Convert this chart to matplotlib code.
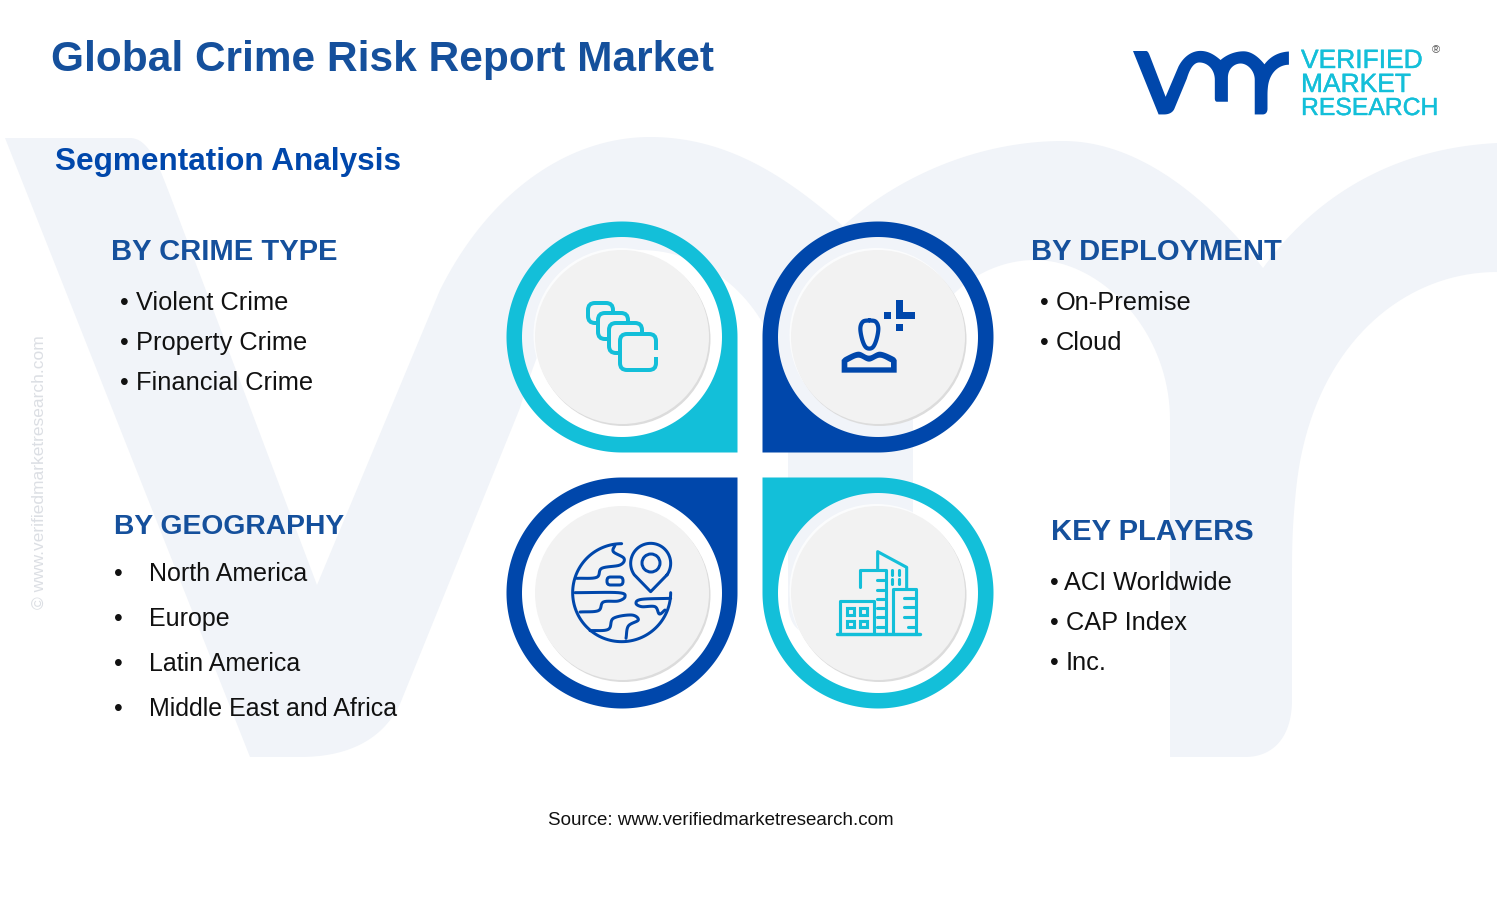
import numpy as np
import matplotlib
matplotlib.use('Agg')
import matplotlib.pyplot as plt
import matplotlib.patheffects as pe
from matplotlib.path import Path
from matplotlib.patches import PathPatch, Circle, Rectangle, FancyBboxPatch

plt.rcParams['font.family'] = ['Liberation Sans', 'DejaVu Sans']

title = 'Global Crime Risk Report Market'
subtitle = 'Segmentation Analysis'
source = 'Source: www.verifiedmarketresearch.com'
copyright_note = '© www.verifiedmarketresearch.com'

crime_types = ['Violent Crime', 'Property Crime', 'Financial Crime']
deployments = ['On-Premise', 'Cloud']
geographies = ['North America', 'Europe', 'Latin America', 'Middle East and Africa']
key_players = ['ACI Worldwide', 'CAP Index', 'Inc.']

BLUE = '#0047ab'
TEAL = '#13bfd9'
HEAD = '#15509c'
WASH = '#f1f4f9'
INK = '#111111'
PX = 72 / 100  # one pixel in points at dpi 100


def smooth(pts, n=14):
    # Catmull-Rom through the given points
    pts = np.array(pts, dtype=float)
    p = np.vstack([2 * pts[0] - pts[1], pts, 2 * pts[-1] - pts[-2]])
    out = []
    for i in range(1, len(p) - 2):
        for t in np.linspace(0, 1, n, endpoint=False):
            out.append(0.5 * (2 * p[i] + (p[i + 1] - p[i - 1]) * t
                              + (2 * p[i - 1] - 5 * p[i] + 4 * p[i + 1] - p[i + 2]) * t ** 2
                              + (3 * p[i] - p[i - 1] - 3 * p[i + 1] + p[i + 2]) * t ** 3))
    out.append(pts[-1])
    return np.array(out)


def bez(p0, c1, c2, p1, n=40):
    t = np.linspace(0, 1, n)[:, None]
    p0, c1, c2, p1 = [np.array(q, dtype=float) for q in (p0, c1, c2, p1)]
    return (1 - t) ** 3 * p0 + 3 * (1 - t) ** 2 * t * c1 + 3 * (1 - t) * t ** 2 * c2 + t ** 3 * p1


def vmr_outline():
    parts = [
        np.array([[5, 138], [130, 138]]),
        bez((130, 138), (150, 138), (160, 170), (170, 195)),
        np.array([[317, 585]]),
        bez((440, 290), (490, 190), (570, 137), (650, 137)),
        bez((650, 137), (730, 137), (790, 180), (843, 226)),
        bez((843, 226), (900, 175), (980, 141), (1063, 141)),
        bez((1063, 141), (1140, 141), (1210, 200), (1263, 268)),
        bez((1263, 268), (1320, 190), (1400, 148), (1497, 143)),
        bez((1497, 272), (1400, 272), (1310, 350), (1296, 490)),
        bez((1296, 490), (1293, 520), (1292, 540), (1292, 570)),
        bez((1292, 700), (1292, 735), (1275, 757), (1245, 757)),
        bez((1170, 757), (1170, 600), (1170, 500), (1170, 420)),
        bez((1170, 420), (1170, 330), (1100, 260), (1035, 260)),
        bez((1035, 260), (975, 260), (913, 310), (913, 400)),
        np.array([[913, 633], [810, 633]]),
        bez((810, 633), (795, 633), (788, 620), (788, 600)),
        bez((788, 420), (788, 320), (720, 250), (640, 250)),
        bez((640, 250), (575, 250), (540, 340), (520, 408)),
        bez((400, 704), (380, 745), (340, 757), (300, 757)),
        np.array([[250, 757], [5, 138]]),
    ]
    return np.vstack(parts)


def teardrop(ax, cx, cy, sx, sy, color, r_out=115.5, r_in=100):
    th = np.radians(np.linspace(0, -270, 200))
    outer = np.c_[cx + sx * r_out * np.cos(th), cy + sy * r_out * np.sin(th)]
    outer = np.vstack([outer, [cx + sx * r_out, cy + sy * r_out], outer[0]])
    th = np.radians(np.linspace(0, 360, 200))
    hole = np.c_[cx + sx * r_in * np.cos(th), cy + sy * r_in * np.sin(th)]
    verts = np.vstack([outer, hole])
    codes = [Path.MOVETO] + [Path.LINETO] * (len(outer) - 1) + [Path.MOVETO] + [Path.LINETO] * (len(hole) - 1)
    ax.add_patch(PathPatch(Path(verts, codes), fc=color, ec='none', zorder=2))
    # dish in the middle
    ax.add_patch(Circle((cx - 1.5, cy - 2), 87, fc='white', ec='none', alpha=0.75, zorder=3))
    ax.add_patch(Circle((cx + 1.5, cy + 2), 87, fc='#dcdcdc', ec='none', zorder=3))
    ax.add_patch(Circle((cx, cy), 87, fc='#f2f2f2', ec='none', zorder=3))


def line(ax, pts, color, w, ox, oy, curved=False, close=False):
    # pts are in 3x crop coordinates measured from (ox, oy)
    p = np.array(pts, dtype=float) / 3 + [ox, oy]
    if close:
        p = np.vstack([p, p[0]])
    if curved:
        p = smooth(p, 8)
    ax.plot(p[:, 0], p[:, 1], color=color, lw=w * PX, solid_capstyle='round',
            solid_joinstyle='round', zorder=4)


def round_box(ax, x0, y0, x1, y1, color, w, rad=6, fill=None):
    ax.add_patch(FancyBboxPatch((x0 + rad, y0 + rad), x1 - x0 - 2 * rad, y1 - y0 - 2 * rad,
                                boxstyle=f'round,pad={rad},rounding_size={rad}',
                                fc=fill if fill else 'none', ec=color, lw=w * PX, zorder=4))


def icon_layers(ax):
    round_box(ax, 588, 303, 613, 323, TEAL, 4, rad=7, fill='#f2f2f2')
    round_box(ax, 598, 313, 628, 339, TEAL, 4, rad=7, fill='#f2f2f2')
    round_box(ax, 609, 323, 642, 353, TEAL, 4, rad=7, fill='#f2f2f2')
    round_box(ax, 620, 334, 656, 370, TEAL, 4, rad=7, fill='#f2f2f2')
    ax.add_patch(Rectangle((652, 350), 8, 7, fc='#f2f2f2', ec='none', zorder=4.5))


def icon_person(ax):
    ox, oy = 755, 215
    line(ax, [(343, 316), (362, 320), (370, 340), (364, 375), (352, 398), (334, 398), (322, 375),
              (316, 340), (324, 320)],
         BLUE, 4.2, ox, oy, curved=True, close=True)
    body = smooth([(260, 435), (272, 425), (310, 410), (342, 422), (375, 410), (415, 425), (425, 435)], 8)
    hollow = smooth([(277, 442), (310, 428), (342, 440), (375, 428), (408, 442)], 8)
    ox_pts = np.vstack([[(260, 473)], body, [(425, 473)], [(260, 473)]]) / 3 + [ox, oy]
    in_pts = np.vstack([[(277, 457)], hollow, [(408, 457)], [(277, 457)]]) / 3 + [ox, oy]
    ax.fill(ox_pts[:, 0], ox_pts[:, 1], color=BLUE, lw=0, zorder=4)
    ax.fill(in_pts[:, 0], in_pts[:, 1], color='#f2f2f2', lw=0, zorder=4.5)
    ax.add_patch(Rectangle((884, 312), 6.5, 6.5, fc=BLUE, ec='none', zorder=4))
    ax.add_patch(Rectangle((896, 324), 6.5, 6.5, fc=BLUE, ec='none', zorder=4))
    ax.add_patch(Rectangle((896, 300), 6.5, 18.5, fc=BLUE, ec='none', zorder=4))
    ax.add_patch(Rectangle((896, 312), 19, 6.5, fc=BLUE, ec='none', zorder=4))


def icon_globe(ax):
    ox, oy = 500, 470
    w = 3
    th = np.radians(np.linspace(90, 360, 100))
    line(ax, np.c_[365 + 147 * np.cos(th), 368 - 147 * np.sin(th)], BLUE, w, ox, oy)
    line(ax, [(345, 225), (340, 245), (372, 265), (360, 285), (305, 295), (290, 322), (230, 325)],
         BLUE, w, ox, oy, curved=True)
    line(ax, [(225, 368), (355, 368), (375, 380), (355, 393), (310, 396), (295, 422), (240, 426)],
         BLUE, w, ox, oy, curved=True)
    line(ax, [(270, 482), (325, 478), (340, 445), (395, 435), (415, 450), (385, 468), (378, 505)],
         BLUE, w, ox, oy, curved=True)
    line(ax, [(512, 385), (425, 388), (408, 400), (425, 410), (465, 410), (478, 432), (495, 420)],
         BLUE, w, ox, oy, curved=True)
    round_box(ax, 607, 577, 623, 585, BLUE, w, rad=3.5)
    # map pin
    th = np.radians(np.linspace(-35, 215, 60))
    pin = np.c_[452 + 60 * np.cos(th), 280 - 60 * np.sin(th)]
    pin = np.vstack([pin, [452, 365], pin[0]])
    line(ax, pin, BLUE, w, ox, oy)
    ax.add_patch(Circle((651, 563), 9, fc='none', ec=BLUE, lw=w * PX, zorder=4))


def icon_city(ax):
    ox, oy = 755, 470
    w = 3.1
    line(ax, [(245, 491), (495, 491)], TEAL, 3.4, ox, oy)
    line(ax, [(255, 491), (255, 393), (358, 393), (358, 491)], TEAL, w, ox, oy)
    line(ax, [(315, 350), (315, 300), (392, 300), (392, 491)], TEAL, w, ox, oy)
    line(ax, [(368, 298), (368, 245), (455, 292), (455, 355)], TEAL, w, ox, oy)
    line(ax, [(415, 491), (415, 358), (483, 358), (483, 491)], TEAL, w, ox, oy)
    for yy in [330, 360, 387, 415, 442, 470]:
        line(ax, [(365, yy), (388, yy)], TEAL, w, ox, oy)
    for yy in [385, 412, 442]:
        line(ax, [(447, yy), (483, yy)], TEAL, w, ox, oy)
    line(ax, [(460, 470), (483, 470)], TEAL, w, ox, oy)
    line(ax, [(437, 470), (439, 470)], TEAL, w, ox, oy)
    line(ax, [(314, 372), (316, 372)], TEAL, w, ox, oy)
    for xx in [412, 433]:
        for yy in [308, 335]:
            line(ax, [(xx, yy - 8), (xx, yy + 8)], TEAL, w, ox, oy)
    for xx in [287, 326]:
        for yy in [424, 462]:
            ax.add_patch(Rectangle((ox + (xx - 10) / 3, oy + (yy - 10) / 3), 20 / 3, 20 / 3,
                                   fc='none', ec=TEAL, lw=w * PX, zorder=4))


def block(ax, heading, hx, hy, items, bx, tx, ys, hsize=21, size=18.3):
    ax.text(hx, hy, heading, fontsize=hsize, fontweight='bold', color=HEAD, zorder=5)
    for i, item in enumerate(items):
        ax.text(bx, ys[i], '•', fontsize=18, color=INK, ha='center', zorder=5)
        ax.text(tx[i], ys[i], item, fontsize=size, color=INK, zorder=5)


fig = plt.figure(figsize=(15, 9.11), dpi=100)
ax = fig.add_axes([0, 0, 1, 1])
ax.set_xlim(0, 1500)
ax.set_ylim(911, 0)
ax.axis('off')

outline = vmr_outline()
ax.fill(outline[:, 0], outline[:, 1], color=WASH, lw=0, zorder=1)

# logo, same letterform as the wash behind the chart
ax.fill(1133 + (outline[:, 0] - 5) * 0.1045, 51 + (outline[:, 1] - 138) * 0.1025, color=BLUE, lw=0, zorder=2)
heavier = [pe.withStroke(linewidth=0.3, foreground=TEAL)]
ax.text(1301, 68, 'VERIFIED', fontsize=19, color=TEAL, path_effects=heavier, zorder=5)
ax.text(1301, 92, 'MARKET', fontsize=19, color=TEAL, path_effects=heavier, zorder=5)
ax.text(1301, 115, 'RESEARCH', fontsize=17.8, color=TEAL, path_effects=heavier, zorder=5)
ax.text(1436, 50, '®', fontsize=8, color='#555555', ha='center', va='center', zorder=5)

ax.text(51, 71, title, fontsize=30.5, fontweight='bold', color=HEAD, zorder=5)
ax.text(55, 170, subtitle, fontsize=22.65, fontweight='bold', color=BLUE, zorder=5)

block(ax, 'BY CRIME TYPE', 111, 260, crime_types, 124, [136, 136, 136], [310, 350, 390])
block(ax, 'BY DEPLOYMENT', 1031, 260, deployments, 1044, [1056, 1056], [310, 350])
block(ax, 'BY GEOGRAPHY', 114, 534, geographies, 118, [149, 149, 149, 149], [581, 626, 671, 716],
      hsize=20.3, size=18)
block(ax, 'KEY PLAYERS', 1051, 540, key_players, 1054, [1064, 1066, 1066], [590, 630, 670])

teardrop(ax, 622, 337, 1, 1, TEAL)
teardrop(ax, 878, 337, -1, 1, BLUE)
teardrop(ax, 622, 593, 1, -1, BLUE)
teardrop(ax, 878, 593, -1, -1, TEAL)
icon_layers(ax)
icon_person(ax)
icon_globe(ax)
icon_city(ax)

ax.text(721, 825, source, fontsize=13.5, color=INK, ha='center', zorder=5)
ax.text(39, 472, copyright_note, fontsize=12.5, color='#dcdfe4', rotation=90, ha='center', va='center', zorder=5)

fig.savefig('out.png', dpi=100)
